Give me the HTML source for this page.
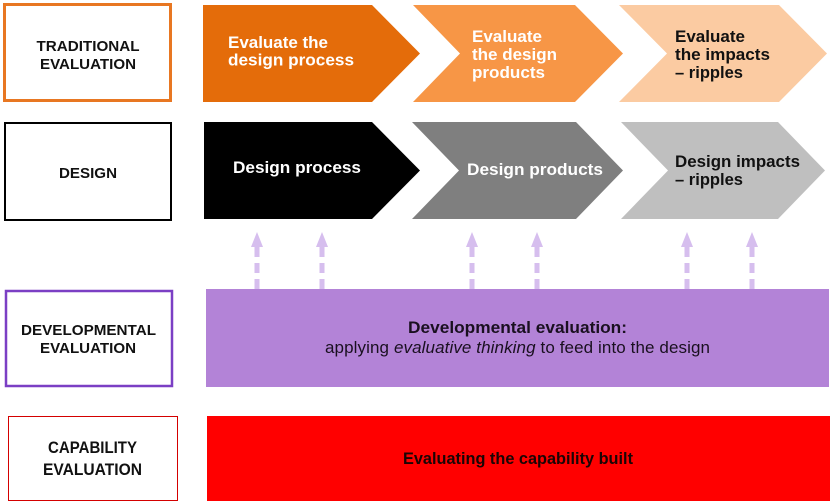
<!DOCTYPE html>
<html><head><meta charset="utf-8"><style>
html,body{margin:0;padding:0;background:#fff;}
svg{display:block;}
text{font-family:"Liberation Sans",Arial,sans-serif;}
</style></head><body>
<svg width="831" height="504" viewBox="0 0 831 504" xmlns="http://www.w3.org/2000/svg">
<!-- Left label boxes -->
<rect x="4.5" y="4.5" width="166" height="96" fill="#fff" stroke="#E87722" stroke-width="3"/>
<rect x="5" y="123" width="166" height="97" fill="#fff" stroke="#000" stroke-width="2"/>
<rect x="6" y="291" width="166" height="95" fill="#fff" stroke="#7B3FC4" stroke-width="2.5"/>
<rect x="8.5" y="416.5" width="169" height="84" fill="#fff" stroke="#D40000" stroke-width="1"/>

<g font-weight="bold" fill="#111" font-size="15" text-anchor="middle">
<text x="88" y="51" textLength="103" lengthAdjust="spacingAndGlyphs">TRADITIONAL</text>
<text x="88" y="69" textLength="96" lengthAdjust="spacingAndGlyphs">EVALUATION</text>
<text x="88" y="178" textLength="58" lengthAdjust="spacingAndGlyphs">DESIGN</text>
<text x="88.5" y="335" textLength="135" lengthAdjust="spacingAndGlyphs">DEVELOPMENTAL</text>
<text x="88" y="353" textLength="96" lengthAdjust="spacingAndGlyphs">EVALUATION</text>
<text x="92.5" y="453" font-size="16.5" textLength="89" lengthAdjust="spacingAndGlyphs">CAPABILITY</text>
<text x="92.5" y="475" font-size="16.5" textLength="99" lengthAdjust="spacingAndGlyphs">EVALUATION</text>
</g>

<!-- Row 1 chevrons -->
<polygon points="203,5 372,5 420,53.5 372,102 203,102" fill="#E46C0A"/>
<polygon points="413,5 575,5 623,53.5 575,102 413,102 460,53.5" fill="#F79646"/>
<polygon points="619,5 779,5 827,53.5 779,102 619,102 667,53.5" fill="#FBCBA2"/>

<!-- Row 2 chevrons -->
<polygon points="204,122 372,122 420,170.5 372,219 204,219" fill="#000"/>
<polygon points="412,122 576,122 623,170.5 576,219 412,219 459,170.5" fill="#7F7F7F"/>
<polygon points="621,122 778,122 825,170.5 778,219 621,219 668,170.5" fill="#BFBFBF"/>

<g font-weight="bold" font-size="17">
<text x="228" y="48" fill="#fff" textLength="100" lengthAdjust="spacingAndGlyphs">Evaluate the</text>
<text x="228" y="65.5" fill="#fff" textLength="126" lengthAdjust="spacingAndGlyphs">design process</text>

<text x="472" y="42" fill="#fff" textLength="70" lengthAdjust="spacingAndGlyphs">Evaluate</text>
<text x="472" y="60" fill="#fff" textLength="85" lengthAdjust="spacingAndGlyphs">the design</text>
<text x="472" y="78" fill="#fff" textLength="73" lengthAdjust="spacingAndGlyphs">products</text>

<text x="675" y="42" fill="#111" textLength="70" lengthAdjust="spacingAndGlyphs">Evaluate</text>
<text x="675" y="60" fill="#111" textLength="95" lengthAdjust="spacingAndGlyphs">the impacts</text>
<text x="675" y="78" fill="#111" textLength="68" lengthAdjust="spacingAndGlyphs">– ripples</text>

<text x="233" y="173" fill="#fff" textLength="128" lengthAdjust="spacingAndGlyphs">Design process</text>
<text x="467" y="175" fill="#fff" textLength="136" lengthAdjust="spacingAndGlyphs">Design products</text>
<text x="675" y="167" fill="#111" textLength="125" lengthAdjust="spacingAndGlyphs">Design impacts</text>
<text x="675" y="185" fill="#111" textLength="68" lengthAdjust="spacingAndGlyphs">– ripples</text>
</g>

<!-- Dashed arrows -->
<g fill="#D6BEEE" stroke="none">
<polygon points="257,232 263,247 251,247"/>
<polygon points="322,232 328,247 316,247"/>
<polygon points="472,232 478,247 466,247"/>
<polygon points="537,232 543,247 531,247"/>
<polygon points="687,232 693,247 681,247"/>
<polygon points="752,232 758,247 746,247"/>
</g>
<g stroke="#D6BEEE" stroke-width="5" stroke-dasharray="10 6">
<line x1="257" y1="247" x2="257" y2="290"/>
<line x1="322" y1="247" x2="322" y2="290"/>
<line x1="472" y1="247" x2="472" y2="290"/>
<line x1="537" y1="247" x2="537" y2="290"/>
<line x1="687" y1="247" x2="687" y2="290"/>
<line x1="752" y1="247" x2="752" y2="290"/>
</g>

<!-- Developmental bar -->
<rect x="206" y="289" width="623" height="98" fill="#B383D7"/>
<text x="517.5" y="333" text-anchor="middle" font-weight="bold" font-size="17" fill="#1a1020" textLength="219" lengthAdjust="spacingAndGlyphs">Developmental evaluation:</text>
<text x="325" y="353" font-size="17" fill="#1a1020" textLength="385" lengthAdjust="spacing">applying <tspan font-style="italic">evaluative thinking</tspan> to feed into the design</text>

<!-- Capability bar -->
<rect x="207" y="416" width="623" height="85" fill="#FF0000"/>
<text x="518" y="464" text-anchor="middle" font-weight="bold" font-size="16.5" fill="#1a0505" textLength="230" lengthAdjust="spacingAndGlyphs">Evaluating the capability built</text>
</svg>
</body></html>
